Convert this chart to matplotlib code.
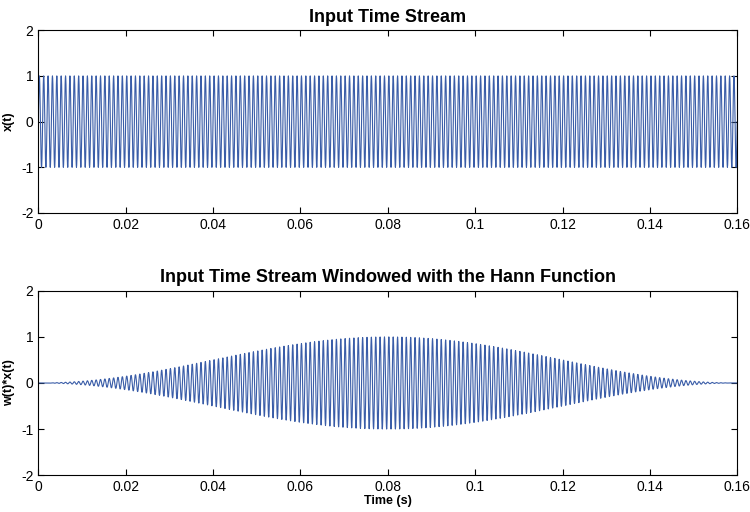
import numpy as np
import matplotlib
matplotlib.use("Agg")
import matplotlib.pyplot as plt

duration = 0.16
freq = 1000.0
fs = 20000.0
titles = ["Input Time Stream", "Input Time Stream Windowed with the Hann Function"]
ylabels = ["x(t)", "w(t)*x(t)"]
xticks = [0, 0.02, 0.04, 0.06, 0.08, 0.1, 0.12, 0.14, 0.16]
xticklabels = ["0", "0.02", "0.04", "0.06", "0.08", "0.1", "0.12", "0.14", "0.16"]
yticks = [-2, -1, 0, 1, 2]

t = np.linspace(0, duration, int(duration * fs) + 1)
x = np.sin(2 * np.pi * freq * t)
w = np.hanning(len(t))
signals = [x, w * x]

plt.rcParams['font.family'] = ['Liberation Sans', 'DejaVu Sans']
plt.rcParams['axes.unicode_minus'] = False
fig = plt.figure(figsize=(7.5, 5.12), dpi=100)
boxes = [[0.051, 0.584, 0.932, 0.357], [0.051, 0.072, 0.932, 0.36]]
for i in range(2):
    ax = fig.add_axes(boxes[i])
    ax.plot(t, signals[i], color="#3a5da8", lw=0.8)
    ax.set_xlim(0, 0.16)
    ax.set_ylim(-2, 2)
    ax.set_xticks(xticks)
    ax.set_xticklabels(xticklabels)
    ax.set_yticks(yticks)
    ax.tick_params(direction="in", labelsize=10, length=4, top=True, right=True)
    ax.set_title(titles[i], fontsize=13, fontweight="bold", pad=6)
    ax.set_ylabel(ylabels[i], fontsize=9, fontweight="bold", labelpad=4)
    if i == 1:
        ax.set_xlabel("Time (s)", fontsize=9, fontweight="bold", labelpad=1)
fig.savefig("out.png", dpi=100)
